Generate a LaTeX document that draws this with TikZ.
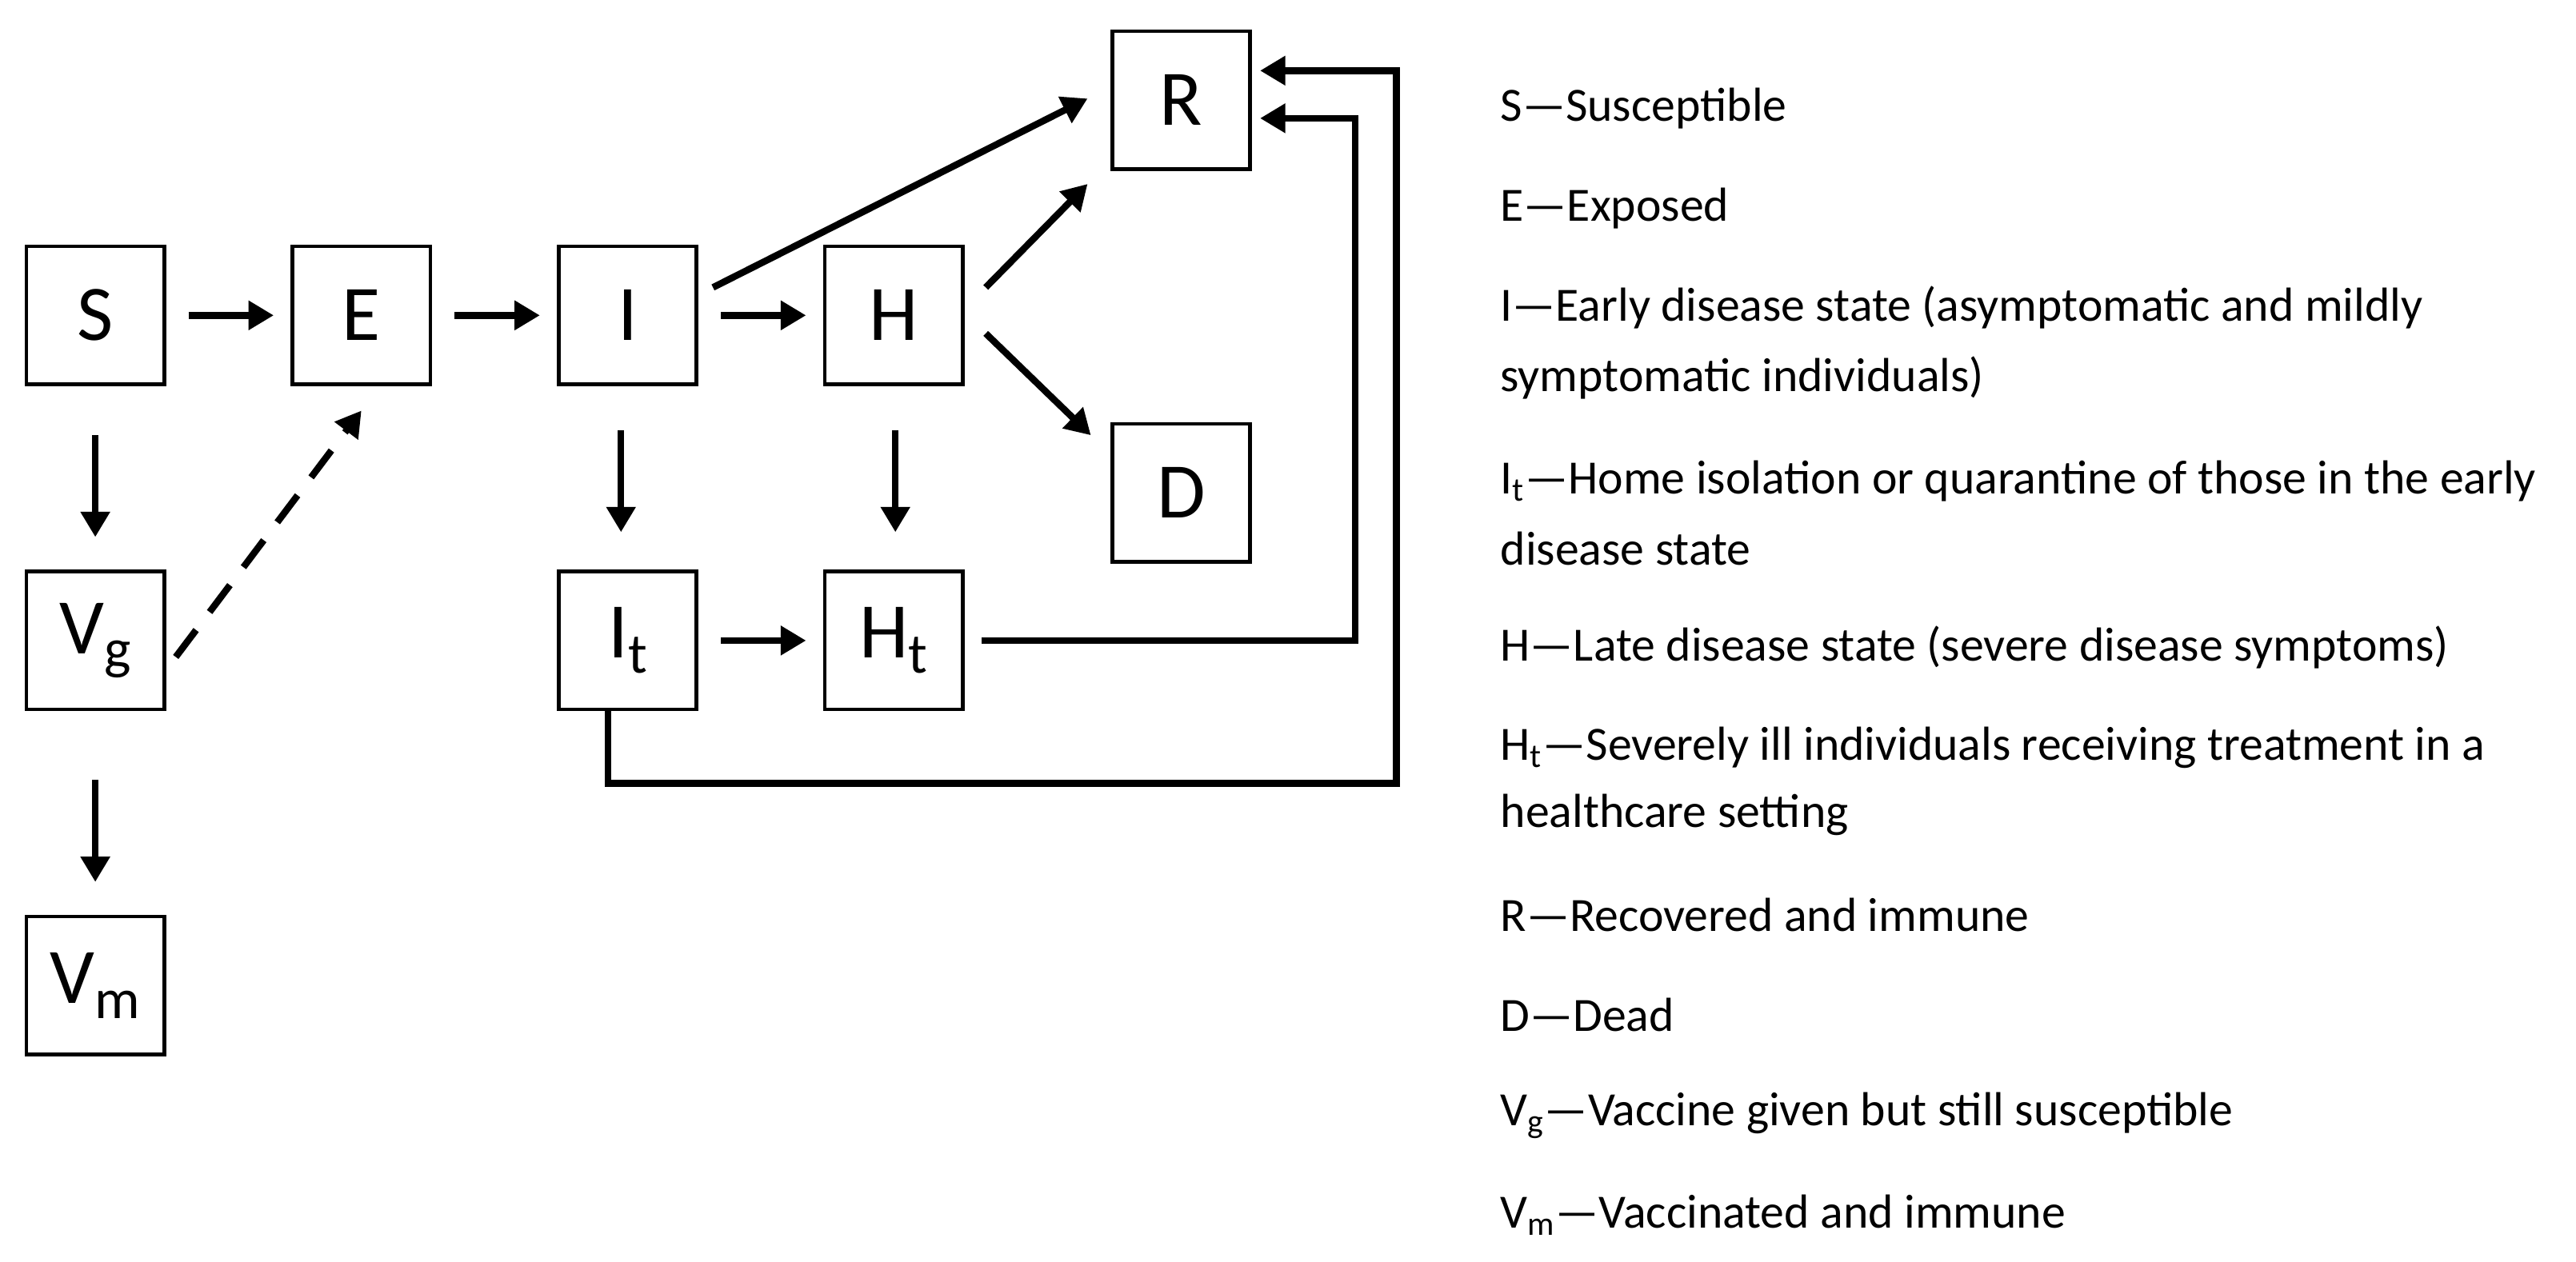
\documentclass[tikz,border=0pt]{standalone}
\usepackage{fontspec}
\setmainfont{Carlito}
\usetikzlibrary{arrows.meta}
\newcommand\lowsub[1]{\raisebox{-0.4ex}{\scalebox{0.72}{#1}}}
\begin{document}
\begin{tikzpicture}[x=0.02054cm,y=-0.02054cm,
  box/.style={draw,line width=1.3pt,minimum size=1.725cm,inner sep=0pt,font=\fontsize{28}{30}\selectfont},
  ar/.style={line width=2.4pt,-{Triangle[length=9pt,width=10pt]}},
  lg/.style={anchor=west,font=\fontsize{17}{20}\selectfont,inner sep=0pt}]
\useasboundingbox (0,0) rectangle (1568,768);
\node[box] (S) at (58,192) {S};
\node[box] (E) at (220,192) {E};
\node[box] (I) at (382,192) {I};
\node[box] (H) at (544,192) {H};
\node[box] (R) at (719,61) {R};
\node[box] (D) at (719,300) {D};
\node[box] (Vg) at (58,390) {V\lowsub{g}};
\node[box] (It) at (382,390) {I\lowsub{t}};
\node[box] (Ht) at (544,390) {H\lowsub{t}};
\node[box] (Vm) at (58,600) {V\lowsub{m}};
\coordinate (sv1) at (58,265); \coordinate (sv2) at (58,327);
\coordinate (vv1) at (58,475); \coordinate (vv2) at (58,537);
\coordinate (ii1) at (378,262); \coordinate (ii2) at (378,324);
\coordinate (hh1) at (545,262); \coordinate (hh2) at (545,324);
\coordinate (rA) at (767,72); \coordinate (rB) at (767,43);
\draw[ar] ([xshift=8pt]S.east) -- ([xshift=-6pt]E.west);
\draw[ar] ([xshift=8pt]E.east) -- ([xshift=-6pt]I.west);
\draw[ar] ([xshift=8pt]I.east) -- ([xshift=-6pt]H.west);
\draw[ar] (sv1) -- (sv2);
\draw[ar] (vv1) -- (vv2);
\draw[ar] (ii1) -- (ii2);
\draw[ar] (hh1) -- (hh2);
\draw[ar] ([xshift=8pt]It.east) -- ([xshift=-6pt]Ht.west);
\draw[ar,dashed,dash pattern=on 12pt off 8pt] (107,400) -- (220,250);
\draw[ar] (434,175) -- (662,60);
\draw[ar] (600,175) -- (662,112);
\draw[ar] (600,203) -- (664,265);
\draw[ar] ([xshift=6pt]Ht.east) -| (825,72) -- (rA);
\draw[ar] ([xshift=-7pt]It.south) |- (850,477) -- (850,43) -- (rB);
\node[lg] (l1) at (913,66) {S—Susceptible};
\node[lg] (l2) at (913,127) {E—Exposed};
\node[lg] (l3) at (913,187) {I—Early disease state (asymptomatic and mildly};
\node[lg] (l3b) at (913,230) {symptomatic individuals)};
\node[lg] (l4) at (913,293) {I\textsubscript{t}—Home isolation or quarantine of those in the early};
\node[lg] (l4b) at (913,334) {disease state};
\node[lg] (l5) at (913,394) {H—Late disease state (severe disease symptoms)};
\node[lg] (l6) at (913,455) {H\textsubscript{t}—Severely ill individuals receiving treatment in a};
\node[lg] (l6b) at (913,496) {healthcare setting};
\node[lg] (l7) at (913,557) {R—Recovered and immune};
\node[lg] (l8) at (913,618) {D—Dead};
\node[lg] (l9) at (913,679) {V\textsubscript{g}—Vaccine given but still susceptible};
\node[lg] (l10) at (913,740) {V\textsubscript{m}—Vaccinated and immune};
\end{tikzpicture}
\end{document}
